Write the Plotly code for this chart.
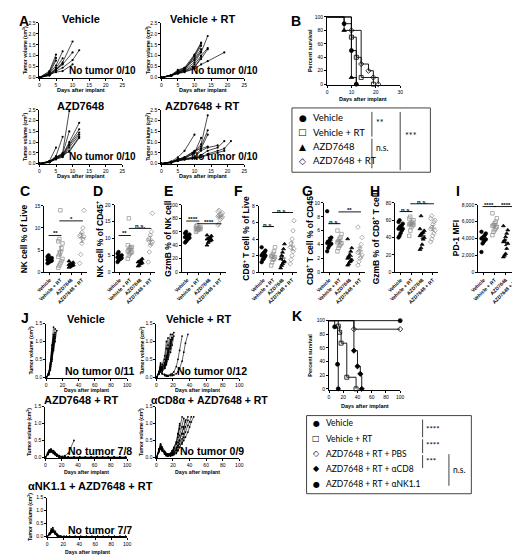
import numpy as np
import plotly.graph_objects as go

W, H = 520, 555
FONT = 'Liberation Sans'
LEG_FONT = 'Lato'

# ---------------- data ----------------
groups = ['Vehicle', 'Vehicle + RT', 'AZD7648', 'AZD7648 + RT']

# A: tumour volume (cm3) per mouse, read against the day list of each panel
a_days_veh = [0, 3, 5, 7, 10, 12]
a_vehicle = [[0, 0.3, 1.05], [0, 0.25, 0.9], [0, 0.2, 0.78], [0, 0.2, 0.55, 1.2],
             [0, 0.15, 0.45, 0.88], [0, 0.12, 0.4, 0.7, 1.65], [0, 0.1, 0.35, 0.6, 1.15],
             [0, 0.1, 0.3, 0.45, 0.8, 1.25], [0, 0.18, 0.35, 0.65], [0, 0.15, 0.25, 0.3, 0.6]]
a_days_vrt = [0, 3, 5, 7, 10, 12, 14, 19]
a_vehicle_rt = [[0, 0.1, 0.25, 0.35, 1.0, 1.55], [0, 0.12, 0.3, 0.4, 0.95, 1.45],
                [0, 0.1, 0.2, 0.4, 0.85, 1.3], [0, 0.08, 0.3, 0.45, 1.05, 1.6],
                [0, 0.1, 0.25, 0.35, 0.7, 1.15, 1.9], [0, 0.1, 0.2, 0.3, 0.6, 1.0, 1.35],
                [0, 0.12, 0.35, 0.45, 0.8, 1.2], [0, 0.08, 0.2, 0.3, 0.5, 0.85, 1.3],
                [0, 0.1, 0.18, 0.25, 0.4, 0.6, 0.75, 1.15], [0, 0.1, 0.2, 0.28, 0.42, 0.95]]
a_days_azd = [0, 3, 5, 7, 9, 12]
a_azd = [[0, 0.1, 0.3, 0.5, 2.45], [0, 0.1, 0.35, 1.25], [0, 0.12, 0.75],
         [0, 0.1, 0.3, 0.45, 1.5], [0, 0.08, 0.3, 0.4, 1.0, 1.9], [0, 0.08, 0.25, 0.4, 0.9, 1.6],
         [0, 0.1, 0.25, 0.35, 0.85, 1.45], [0, 0.08, 0.22, 0.3, 0.75, 1.35],
         [0, 0.06, 0.2, 0.35, 0.6, 1.25], [0, 0.07, 0.25, 0.45, 0.55, 1.2]]
a_days_art = [0, 3, 5, 7, 10, 12, 14, 17, 19, 21]
a_azd_rt = [[0, 0.1, 0.3, 0.6, 1.35], [0, 0.08, 0.2, 0.3, 0.55, 0.9, 2.25],
            [0, 0.08, 0.2, 0.25, 0.5, 0.8, 1.55], [0, 0.06, 0.2, 0.3, 0.6, 0.7, 1.35],
            [0, 0.08, 0.18, 0.25, 0.5, 1.2], [0, 0.06, 0.15, 0.22, 0.3, 0.6, 0.75, 0.85],
            [0, 0.05, 0.15, 0.2, 0.25, 0.4, 0.6, 0.75, 1.05],
            [0, 0.05, 0.12, 0.2, 0.25, 0.3, 0.45, 0.6, 0.7, 1.05],
            [0, 0.05, 0.15, 0.2, 0.25, 0.3, 0.4, 0.5, 0.6], [0, 0.06, 0.2, 0.25, 0.3, 0.7, 0.8]]

# B: survival (%)
b_vehicle_t, b_vehicle_s = [0, 7, 10, 12], [100, 90, 50, 0]
b_vrt_t, b_vrt_s = [0, 10, 12, 14, 19], [100, 70, 40, 10, 0]
b_azd_t, b_azd_s = [0, 7, 10, 12], [100, 80, 10, 0]
b_art_t, b_art_s = [0, 10, 14, 17, 19, 21], [100, 80, 30, 20, 10, 0]

# C-I: flow cytometry, one list per group
nk_live = [[2.2, 2.5, 2.8, 3.0, 3.2, 3.5, 2.6, 2.9, 3.8, 2.0, 3.1, 2.4],
           [1.0, 1.5, 2.0, 2.5, 3.0, 4.0, 5.5, 6.5, 7.0, 7.5, 14.0, 4.5, 3.5],
           [1.2, 1.5, 1.7, 1.8, 2.0, 2.2, 1.6, 1.4, 1.9, 2.5, 1.1],
           [2.0, 4.0, 6.5, 7.5, 8.0, 8.5, 9.0, 10.0, 14.0, 8.2]]
nk_cd45 = [[3.0, 3.5, 4.0, 4.2, 4.5, 4.8, 5.0, 5.5, 6.0, 4.4, 3.8, 4.6],
           [4.0, 5.0, 5.5, 6.0, 6.5, 7.0, 7.5, 8.0, 16.0, 6.2, 7.2, 5.8],
           [2.0, 2.5, 2.8, 3.0, 3.2, 3.5, 4.0, 2.6, 3.3, 1.8],
           [3.0, 6.0, 8.5, 9.0, 9.5, 10.0, 11.0, 12.0, 17.5, 8.0]]
gzmb_nk = [[44, 46, 48, 50, 52, 53, 54, 55, 56, 58, 60, 51],
           [60, 62, 63, 64, 65, 66, 67, 68, 70, 65, 64, 66],
           [40, 44, 46, 48, 49, 50, 51, 52, 54, 55, 47],
           [70, 72, 78, 80, 82, 84, 85, 86, 88, 90, 92, 83]]
cd8_live = [[1.2, 1.5, 1.8, 2.0, 2.2, 2.4, 2.6, 2.0, 3.0, 1.6, 2.3],
            [0.8, 1.2, 1.5, 1.8, 2.0, 2.2, 2.5, 3.0, 1.6, 1.9],
            [0.5, 0.8, 1.0, 1.3, 1.6, 2.0, 2.4, 2.8, 3.4, 1.2],
            [1.0, 1.5, 2.0, 2.5, 3.0, 3.5, 4.0, 5.0, 6.2, 2.8]]
cd8_cd45 = [[3.0, 3.5, 4.0, 4.2, 4.5, 4.8, 5.0, 3.8, 4.4, 8.8, 4.1],
            [3.0, 3.5, 3.8, 4.0, 4.2, 4.5, 4.8, 5.0, 5.5, 6.0, 4.3],
            [1.0, 1.2, 1.5, 1.8, 2.0, 2.2, 2.5, 3.0, 3.5, 4.8, 1.6],
            [1.0, 1.5, 2.0, 2.5, 2.8, 3.0, 3.5, 4.0, 5.0, 6.5, 2.2]]
gzmb_cd8 = [[40, 42, 45, 48, 50, 52, 54, 56, 58, 60, 50, 53],
            [42, 48, 52, 54, 55, 56, 58, 60, 62, 64, 57, 55],
            [26, 28, 32, 38, 40, 42, 44, 46, 48, 50, 65, 45],
            [35, 38, 42, 45, 50, 52, 55, 58, 60, 62, 65, 48]]
pd1_mfi = [[2400, 3400, 3600, 3800, 4000, 4200, 4400, 4600, 4800, 3900, 4100],
           [4400, 4800, 5000, 5200, 5400, 5600, 5800, 6000, 6400, 7000, 5500],
           [1800, 2000, 2200, 2800, 3400, 3800, 4200, 4600, 5000, 5500, 3600],
           [1800, 2200, 2600, 2800, 3000, 3100, 3200, 3400, 3500, 2900, 3000]]

# J: long-term tumour growth
j_days_veh = [0, 3, 5, 7, 9, 11, 13]
j_vehicle = [[0, 0.1, 0.3, 0.7, 1.2], [0, 0.1, 0.35, 0.8, 1.4], [0, 0.08, 0.25, 0.6, 1.0, 1.35],
             [0, 0.1, 0.3, 0.55, 0.9, 1.2], [0, 0.12, 0.4, 0.9, 1.1], [0, 0.08, 0.2, 0.5, 0.85, 1.15],
             [0, 0.1, 0.3, 0.65, 1.05], [0, 0.09, 0.25, 0.5, 0.8, 1.1], [0, 0.1, 0.28, 0.6, 0.95, 1.25],
             [0, 0.07, 0.2, 0.45, 0.75, 1.0, 1.3], [0, 0.1, 0.35, 0.75, 1.15]]
j_days_vrt = [0, 3, 5, 7, 10, 12, 14, 17, 19, 21, 24, 26, 28, 31, 33, 35, 38]
j_vehicle_rt = [[0, 0.15, 0.3, 0.25, 0.4, 0.6, 0.9, 1.2],
                [0, 0.12, 0.25, 0.2, 0.3, 0.5, 0.75, 1.0, 1.2],
                [0, 0.15, 0.35, 0.3, 0.5, 0.8, 1.1],
                [0, 0.1, 0.3, 0.25, 0.35, 0.45, 0.6, 0.85, 1.05, 1.25],
                [0, 0.1, 0.2, 0.15, 0.25, 0.4, 0.55, 0.8, 1.1],
                [0, 0.12, 0.28, 0.22, 0.3, 0.35, 0.5, 0.7, 0.9, 1.15],
                [0, 0.1, 0.25, 0.2, 0.25, 0.45, 0.7, 0.95],
                [0, 0.15, 0.4, 0.35, 0.6, 1.0],
                [0, 0.1, 0.2, 0.1, 0.08, 0.05, 0.05, 0.08, 0.1, 0.15, 0.3, 0.5, 0.75, 1.15],
                [0, 0.1, 0.15, 0.1, 0.05, 0.03, 0.03, 0.05, 0.05, 0.06, 0.1, 0.15, 0.25, 0.45, 0.7, 0.95, 1.2],
                [0, 0.12, 0.3, 0.25, 0.4, 0.55, 0.65, 0.9, 1.1],
                [0, 0.1, 0.22, 0.2, 0.3, 0.5, 0.8, 1.05]]
j_days_long = [0, 3, 5, 7, 10, 12, 14, 17, 21, 24, 28, 35, 42, 49, 56, 63, 70, 77, 84, 91, 98]
j_azd_rt = [[0, 0.15, 0.22, 0.25, 0.2, 0.15, 0.1, 0.05, 0, 0, 0, 0, 0, 0, 0, 0, 0, 0, 0, 0, 0],
            [0, 0.12, 0.2, 0.2, 0.18, 0.12, 0.08, 0.03, 0, 0, 0, 0, 0, 0, 0, 0, 0, 0, 0, 0, 0],
            [0, 0.1, 0.18, 0.2, 0.15, 0.1, 0.06, 0.02, 0, 0, 0, 0, 0, 0, 0, 0, 0, 0, 0, 0, 0],
            [0, 0.12, 0.2, 0.22, 0.16, 0.12, 0.07, 0.03, 0, 0, 0, 0, 0, 0, 0, 0, 0, 0, 0, 0, 0],
            [0, 0.1, 0.15, 0.18, 0.14, 0.1, 0.05, 0.02, 0, 0, 0, 0, 0, 0, 0, 0, 0, 0, 0, 0, 0],
            [0, 0.08, 0.15, 0.16, 0.12, 0.08, 0.04, 0.01, 0, 0, 0, 0, 0, 0, 0, 0, 0, 0, 0, 0, 0],
            [0, 0.1, 0.18, 0.2, 0.15, 0.1, 0.06, 0.02, 0, 0, 0, 0, 0, 0, 0, 0, 0, 0, 0, 0, 0]]
j_days_regrow = [0, 3, 5, 7, 10, 12, 14, 17, 21, 24, 28, 31, 35]
j_azd_rt_regrow = [0, 0.12, 0.2, 0.22, 0.18, 0.12, 0.08, 0.05, 0.03, 0.05, 0.12, 0.28, 0.5]
j_days_cd8 = [0, 3, 5, 7, 10, 12, 14, 17, 19, 21, 24, 26, 28, 31, 33, 35, 38, 40, 42, 45]
j_cd8 = [[0, 0.25, 0.4, 0.3, 0.15, 0.1, 0.08, 0.1, 0.15, 0.25, 0.4, 0.6, 0.85, 1.2],
         [0, 0.2, 0.35, 0.25, 0.12, 0.08, 0.06, 0.08, 0.12, 0.2, 0.3, 0.45, 0.65, 0.9, 1.15],
         [0, 0.22, 0.3, 0.2, 0.1, 0.08, 0.1, 0.12, 0.2, 0.3, 0.45, 0.7, 1.0],
         [0, 0.18, 0.28, 0.22, 0.1, 0.05, 0.05, 0.06, 0.1, 0.15, 0.25, 0.35, 0.5, 0.7, 0.85, 1.05, 1.2],
         [0, 0.2, 0.32, 0.25, 0.15, 0.1, 0.08, 0.07, 0.1, 0.12, 0.2, 0.3, 0.4, 0.55, 0.7, 0.9, 1.1],
         [0, 0.15, 0.25, 0.2, 0.12, 0.08, 0.05, 0.05, 0.06, 0.08, 0.12, 0.2, 0.3, 0.45, 0.6, 0.75, 0.95, 1.05, 1.2],
         [0, 0.2, 0.3, 0.2, 0.1, 0.06, 0.05, 0.05, 0.08, 0.1, 0.15, 0.22, 0.3, 0.4, 0.5, 0.6, 0.75, 0.9, 1.05, 1.2],
         [0, 0.25, 0.38, 0.3, 0.18, 0.12, 0.1, 0.12, 0.18, 0.28, 0.45, 0.7, 0.95],
         [0, 0.18, 0.3, 0.22, 0.12, 0.08, 0.06, 0.08, 0.1, 0.15, 0.22, 0.35, 0.5, 0.7, 0.9, 1.1]]
j_nk = [[0, 0.15, 0.3, 0.35, 0.2, 0.1, 0.05, 0.02, 0, 0, 0, 0, 0, 0, 0, 0, 0, 0, 0, 0, 0],
        [0, 0.12, 0.25, 0.28, 0.18, 0.1, 0.04, 0, 0, 0, 0, 0, 0, 0, 0, 0, 0, 0, 0, 0, 0],
        [0, 0.1, 0.22, 0.25, 0.15, 0.08, 0.03, 0, 0, 0, 0, 0, 0, 0, 0, 0, 0, 0, 0, 0, 0],
        [0, 0.12, 0.2, 0.22, 0.15, 0.06, 0.02, 0, 0, 0, 0, 0, 0, 0, 0, 0, 0, 0, 0, 0, 0],
        [0, 0.1, 0.18, 0.2, 0.12, 0.05, 0.02, 0, 0, 0, 0, 0, 0, 0, 0, 0, 0, 0, 0, 0, 0],
        [0, 0.08, 0.16, 0.18, 0.1, 0.05, 0.01, 0, 0, 0, 0, 0, 0, 0, 0, 0, 0, 0, 0, 0, 0],
        [0, 0.1, 0.2, 0.24, 0.14, 0.07, 0.03, 0, 0, 0, 0, 0, 0, 0, 0, 0, 0, 0, 0, 0, 0]]

# K: survival (%)
k_vehicle_t, k_vehicle_s = [0, 8, 12, 13], [100, 91, 36, 0]
k_vrt_t, k_vrt_s = [0, 13, 15, 17, 25, 38], [100, 92, 83, 67, 17, 0]
k_pbs_t, k_pbs_s = [0, 35, 100], [100, 87.5, 87.5]
k_cd8_t, k_cd8_s = [0, 35, 40, 44, 46], [100, 56, 33, 22, 0]
k_nk_t, k_nk_s = [0, 100], [100, 100]

b_legend = ['Vehicle', 'Vehicle + RT', 'AZD7648', 'AZD7648 + RT']
k_legend = ['Vehicle', 'Vehicle + RT', 'AZD7648 + RT + PBS', 'AZD7648 + RT + αCD8', 'AZD7648 + RT + αNK1.1']

# ---------------- helpers ----------------
fig = go.Figure()
layout_axes = {}
ann = []
shapes = []
n_ax = [0]


def px_x(px):
    return px / W


def px_y(py):
    return 1 - py / H


def axes(x0, x1, ytop, ybot, xr, yr, xdt=None, ydt=None, yfmt=None, xcats=None):
    n_ax[0] += 1
    s = '' if n_ax[0] == 1 else str(n_ax[0])
    base = dict(showline=True, linecolor='black', linewidth=1, ticks='outside', ticklen=2,
                tickwidth=0.8, tickcolor='black', showgrid=False, zeroline=False,
                tickfont=dict(size=5, family=FONT, color='black'))
    xa = dict(base, domain=[px_x(x0), px_x(x1)], anchor='y' + s, range=xr)
    ya = dict(base, domain=[px_y(ybot), px_y(ytop)], anchor='x' + s, range=yr)
    if xcats is not None:
        xa.update(tickvals=list(range(len(xcats))), ticktext=['<b>%s</b>' % c for c in xcats], tickangle=-45)
    else:
        xa.update(tick0=0, dtick=xdt)
    ya.update(tick0=0, dtick=ydt)
    if yfmt:
        ya['tickformat'] = yfmt
    layout_axes['xaxis' + s] = xa
    layout_axes['yaxis' + s] = ya
    return 'x' + s, 'y' + s


def txt(px, py, s, size, bold=True, angle=0, xanchor='center', family=FONT):
    ann.append(dict(text='<b>%s</b>' % s if bold else s, showarrow=False, textangle=angle, borderpad=0,
                    font=dict(size=size, family=family, color='black'), xanchor=xanchor, yanchor='middle',
                    x=px_x(px), y=px_y(py), xref='paper', yref='paper'))


def growth(ax, days, mice, lw=0.7, ms=2.2):
    for vols in mice:
        fig.add_trace(go.Scatter(x=days[:len(vols)], y=vols, mode='lines+markers',
                                 line=dict(color='black', width=lw), marker=dict(color='black', size=ms),
                                 xaxis=ax[0], yaxis=ax[1], cliponaxis=False))


def survival(ax, t, s, sym, ms=4):
    fig.add_trace(go.Scatter(x=t, y=s, mode='lines', line=dict(color='black', width=0.9, shape='hv'),
                             xaxis=ax[0], yaxis=ax[1]))
    fig.add_trace(go.Scatter(x=t[1:], y=s[1:], mode='markers', cliponaxis=False,
                             marker=dict(symbol=sym, size=ms, color='black', line=dict(color='black', width=0.8)),
                             xaxis=ax[0], yaxis=ax[1]))


dot_sym = ['circle', 'square-open', 'triangle-up', 'diamond-open']
dot_col = ['black', '#8c8c8c', 'black', '#8c8c8c']


def dotplot(ax, data, sig):
    for ci, vals in enumerate(data):
        v = sorted(vals)
        xs = [ci + ((i % 5) - 2) * 0.1 for i in range(len(v))]
        fig.add_trace(go.Scatter(x=xs, y=v, mode='markers', cliponaxis=False,
                                 marker=dict(symbol=dot_sym[ci], size=3.5, color=dot_col[ci],
                                             line=dict(color=dot_col[ci], width=0.7)),
                                 xaxis=ax[0], yaxis=ax[1]))
        m = float(np.mean(v))
        se = float(np.std(v, ddof=1) / np.sqrt(len(v)))
        fig.add_trace(go.Scatter(x=[ci - 0.32, ci + 0.32, None, ci, ci, None, ci - 0.14, ci + 0.14, None, ci - 0.14, ci + 0.14],
                                 y=[m, m, None, m - se, m + se, None, m - se, m - se, None, m + se, m + se],
                                 mode='lines', line=dict(color=dot_col[ci], width=0.8),
                                 xaxis=ax[0], yaxis=ax[1]))
    for label, a, b, yv in sig:
        shapes.append(dict(type='line', xref=ax[0], yref=ax[1], x0=a - 0.1, x1=b + 0.1, y0=yv, y1=yv,
                           line=dict(color='black', width=0.9)))
        ann.append(dict(x=(a + b) / 2, y=yv, xref=ax[0], yref=ax[1], text='<b>%s</b>' % label,
                        showarrow=False, yanchor='bottom', yshift=-2, borderpad=0,
                        font=dict(size=6, family=FONT, color='black')))


# ---------------- A ----------------
a_boxes = [(23, 108, 12, 68, 'Vehicle', a_days_veh, a_vehicle, 8, 'No tumor 0/10'),
           (148, 233, 12, 68, 'Vehicle + RT', a_days_vrt, a_vehicle_rt, 134, 'No tumor 0/10'),
           (23, 108, 100, 155, 'AZD7648', a_days_azd, a_azd, 8, 'No tumor 0/10'),
           (148, 233, 100, 155, 'AZD7648 + RT', a_days_art, a_azd_rt, 134, 'No tumor 0/10')]
for x0, x1, yt, yb, title, days, mice, tx, note in a_boxes:
    ax = axes(x0, x1, yt, yb, [0, 25], [-0.03, 2.5], xdt=5, ydt=0.5, yfmt='.1f')
    growth(ax, days, mice)
    txt((x0 + x1) / 2, yt - 4, title, 11)
    txt(x1 - 20, yb - 8, note, 10)
    txt(tx, (yt + yb) / 2, 'Tumor volume (cm<sup>3</sup>)', 5, angle=-90)
    txt((x0 + x1) / 2, yb + 12, 'Days after implant', 5.5)
txt(7, 10, 'A', 14)

# ---------------- B ----------------
ax = axes(318, 393, 5, 75, [0, 30], [-1.5, 101.5], xdt=10, ydt=20)
survival(ax, b_vehicle_t, b_vehicle_s, 'circle')
survival(ax, b_vrt_t, b_vrt_s, 'square-open')
survival(ax, b_azd_t, b_azd_s, 'triangle-up')
survival(ax, b_art_t, b_art_s, 'diamond-open')
txt(286, 10, 'B', 14)
txt(300, 40, 'Percent survival', 5.5, angle=-90)
txt(355, 89, 'Days after implant', 5.5)

shapes.append(dict(type='rect', xref='paper', yref='paper', x0=px_x(282), x1=px_x(424),
                   y0=px_y(163), y1=px_y(98), line=dict(color='#444', width=1)))
for i, (lab, sym) in enumerate(zip(b_legend, ['●', '□', '▲', '◇'])):
    yy = 108 + i * 14.5
    txt(293, yy, sym, 9, bold=False, family='DejaVu Sans')
    txt(303, yy, lab, 9.5, bold=False, xanchor='left', family=LEG_FONT)
for x, y0, y1 in [(364, 102, 127), (364, 129, 159), (393, 102, 161)]:
    shapes.append(dict(type='line', xref='paper', yref='paper', x0=px_x(x), x1=px_x(x),
                       y0=px_y(y0), y1=px_y(y1), line=dict(color='#444', width=1)))
txt(367, 113, '**', 9, bold=False, xanchor='left', family=LEG_FONT)
txt(367, 138, 'n.s.', 8.5, bold=False, xanchor='left', family=LEG_FONT)
txt(397, 126, '***', 9, bold=False, xanchor='left', family=LEG_FONT)

# ---------------- C-I ----------------
panels = [('C', 3, 28, 72, 197, [0, 15], 5, None, nk_live, 'NK cell % of Live', 7,
           [('**', 0, 1, 8.3), ('*', 1, 3, 11.6)]),
          ('D', 78, 100, 142, 196, [0, 20], 5, None, nk_cd45, 'NK cell % of CD45<sup>+</sup>', 85,
           [('**', 0, 1, 10.9), ('n.s.', 1, 3, 13.0)]),
          ('E', 150, 169, 214, 196, [0, 100], 20, None, gzmb_nk, 'GzmB % of NK cell', 154,
           [('****', 0, 1, 76), ('****', 1, 3, 72)]),
          ('F', 222, 248, 287, 197, [0, 8], 2, None, cd8_live, 'CD8<sup>+</sup> T cell % of Live', 235,
           [('n.s.', 0, 1, 5.5), ('n.s.', 1, 3, 7.2)]),
          ('G', 293, 315, 357, 194, [0, 10], 2, None, cd8_cd45, 'CD8<sup>+</sup> T cell % of CD45<sup>+</sup>', 300,
           [('n.s.', 0, 1, 7.0), ('**', 1, 3, 8.7)]),
          ('H', 362, 388, 432, 194, [0, 80], 20, None, gzmb_cd8, 'GzmB % of CD8<sup>+</sup> T cell', 368,
           [('n.s.', 0, 1, 70), ('n.s.', 1, 3, 79)]),
          ('I', 447, 473, 518, 196, [0, 8000], 2000, ',', pd1_mfi, 'PD-1 MFI', 450,
           [('****', 0, 1, 7800), ('****', 1, 3, 7800)])]
for letter, lx, x0, x1, yt, yr, ydt, fmt, data, ytitle, tx, sig in panels:
    ax = axes(x0, x1, yt, 264, [-0.5, 3.5], yr, ydt=ydt, yfmt=fmt, xcats=groups)
    dotplot(ax, data, sig)
    txt(lx + 5, 182, letter, 14)
    txt(tx, 230, ytitle, 8.5, angle=-90)

# ---------------- J ----------------
j_boxes = [(30, 113, 316, 371, 'Vehicle', 71, 311, 14, 'No tumor 0/11', 383, 11),
           (143, 228, 316, 371, 'Vehicle + RT', 186, 311, 128, 'No tumor 0/12', 383, 11),
           (29, 113, 400, 452, 'AZD7648 + RT', 66, 393, 13, 'No tumor 7/8', 466, 11),
           (143, 228, 400, 452, 'αCD8α + AZD7648 + RT', 197, 393, 128, 'No tumor 0/9', 466, 10.5),
           (31, 113, 492, 532, 'αNK1.1 + AZD7648 + RT', 75, 480, 14, 'No tumor 7/7', 547, 11)]
j_axes = []
for x0, x1, yt, yb, title, ttx, tty, ytx, note, dty, tsize in j_boxes:
    ax = axes(x0, x1, yt, yb, [0, 100], [-0.02, 1.5], xdt=20, ydt=0.5, yfmt='.1f')
    j_axes.append(ax)
    txt(ttx, tty, title, tsize)
    txt(x1 - 28, yb - 7, note, 10.5)
    txt(ytx, (yt + yb) / 2, 'Tumor volume (cm<sup>3</sup>)', 5, angle=-90)
    txt((x0 + x1) / 2, dty, 'Days after implant', 5.2)
growth(j_axes[0], j_days_veh, j_vehicle, lw=0.6, ms=1.8)
growth(j_axes[1], j_days_vrt, j_vehicle_rt, lw=0.6, ms=1.8)
growth(j_axes[2], j_days_long, j_azd_rt, lw=0.6, ms=1.8)
growth(j_axes[2], j_days_regrow, [j_azd_rt_regrow], lw=0.6, ms=1.8)
growth(j_axes[3], j_days_cd8, j_cd8, lw=0.6, ms=1.8)
growth(j_axes[4], j_days_long, j_nk, lw=0.6, ms=1.8)
txt(8, 310, 'J', 14)

# ---------------- K ----------------
ax = axes(320, 393, 312, 383, [0, 100], [-1.5, 101.5], xdt=20, ydt=20)
survival(ax, k_vehicle_t, k_vehicle_s, 'circle')
survival(ax, k_vrt_t, k_vrt_s, 'square-open')
survival(ax, k_pbs_t, k_pbs_s, 'diamond-open')
survival(ax, k_cd8_t, k_cd8_s, 'diamond')
survival(ax, k_nk_t, k_nk_s, 'circle')
txt(287, 308, 'K', 14)
txt(301, 348, 'Percent survival', 5.5, angle=-90)
txt(357, 399, 'Days after implant', 5.5)

shapes.append(dict(type='rect', xref='paper', yref='paper', x0=px_x(297), x1=px_x(466),
                   y0=px_y(488), y1=px_y(409), line=dict(color='#444', width=1)))
for i, (lab, sym) in enumerate(zip(k_legend, ['●', '□', '◇', '◆', '●'])):
    yy = 417 + i * 15.3
    txt(307, yy, sym, 8, bold=False, family='DejaVu Sans')
    txt(316, yy, lab, 8.5, bold=False, xanchor='left', family=LEG_FONT)
for x, y0, y1 in [(416, 413, 431), (416, 433, 447), (416, 449, 462), (443, 448, 480)]:
    shapes.append(dict(type='line', xref='paper', yref='paper', x0=px_x(x), x1=px_x(x),
                       y0=px_y(y0), y1=px_y(y1), line=dict(color='#444', width=1)))
txt(418, 423, '****', 8, bold=False, xanchor='left', family=LEG_FONT)
txt(418, 439, '****', 8, bold=False, xanchor='left', family=LEG_FONT)
txt(418, 455, '***', 8, bold=False, xanchor='left', family=LEG_FONT)
txt(446, 464, 'n.s.', 8.5, bold=False, xanchor='left', family=LEG_FONT)

fig.update_layout(width=W, height=H, margin=dict(l=0, r=0, t=0, b=0), showlegend=False,
                  plot_bgcolor='white', paper_bgcolor='white', annotations=ann, shapes=shapes,
                  **layout_axes)
fig.write_html("out.html")
